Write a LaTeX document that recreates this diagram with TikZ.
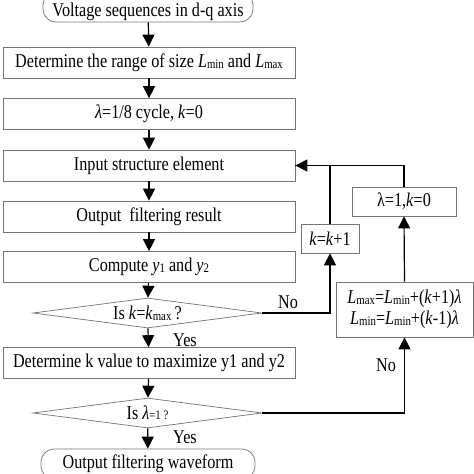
\documentclass[tikz,border=0pt]{standalone}
\usepackage{fontspec}
\setmainfont{Liberation Serif}[FakeStretch=0.83]
\usetikzlibrary{shapes.geometric,arrows.meta}
\newcommand\sbs[1]{\raisebox{-1pt}{\fontsize{13}{13}\selectfont #1}}
\tikzset{
  txt/.style={font=\fontsize{19.5}{22}\selectfont},
  procbox/.style={txt, draw=black!55, line width=0.7pt, rectangle, minimum width=292pt, minimum height=31pt, inner sep=0pt},
  smallbox/.style={txt, draw=black!55, line width=0.7pt, rectangle, inner sep=0pt, align=center},
  term/.style={txt, draw=black!55, line width=0.7pt, rectangle, rounded corners=13pt, inner sep=0pt},
  decide/.style={txt, draw=black!55, line width=0.7pt, diamond, aspect=7.6, minimum width=229pt, minimum height=30pt, inner sep=0pt},
  arr/.style={line width=1.2pt, -{Triangle[width=12pt,length=12pt]}},
  ln/.style={line width=1.2pt},
  lbl/.style={txt, inner sep=0pt}
}
\begin{document}
\begin{tikzpicture}[x=1pt,y=-1pt]
\useasboundingbox (0,0) rectangle (474,474);
\node[term, minimum width=210pt, minimum height=30pt, text height=20pt, text depth=2pt] (start) at (148,7) {Voltage sequences in d-q axis};
\node[procbox] (range) at (149,62.5) {Determine the range of size \textit{L}\sbs{min} and \textit{L}\sbs{max}};
\node[procbox] (init) at (149,114) {\textit{λ}=1/8 cycle, \textit{k}=0};
\node[procbox] (input) at (149,165.5) {Input structure element};
\node[procbox] (output) at (149,216.5) {Output\ \ filtering result};
\node[procbox] (comp) at (149,267) {Compute \textit{y}\sbs{1} and \textit{y}\sbs{2}};
\node[decide] (d1) at (147.5,313) {Is \textit{k}=\textit{k}\sbs{max}\,?};
\node[procbox] (detk) at (149,363) {Determine k value to maximize y1 and y2};
\node[decide] (d2) at (147.5,413) {Is \textit{λ}{\fontsize{13}{13}\selectfont =1 ?}};
\node[term, minimum width=214pt, minimum height=30pt] (stop) at (148,464) {Output filtering waveform};
\node[smallbox, minimum width=58pt, minimum height=29pt] (kk) at (330,238.5) {\textit{k}=\textit{k}+1};
\node[smallbox, minimum width=104pt, minimum height=29pt] (lam) at (404,201.5) {λ=1,\textit{k}=0};
\node[smallbox, minimum width=137pt, minimum height=55pt] (lm) at (404.5,309.5) {\textit{L}\sbs{max}=\textit{L}\sbs{min}+(\textit{k}+1)\textit{λ}\\[-1pt]\textit{L}\sbs{min}=\textit{L}\sbs{min}+(\textit{k}-1)\textit{λ}};
\draw[arr] (start) -- (range);
\draw[arr] (range) -- (init);
\draw[arr] (init) -- (input);
\draw[arr] (input) -- (output);
\draw[arr] (output) -- (comp);
\draw[arr] (comp) -- (d1);
\draw[arr] (d1) -- (detk);
\draw[arr] (detk) -- (d2);
\draw[arr] (d2) -- (stop);
\draw[arr] (d1.east) -| (kk.south);
\draw[arr] (lam.north) |- (input.east);
\draw[ln] (kk.north) |- (input.east);
\draw[arr] (d2.east) -| (lm.south);
\draw[arr] (lm.north) -- (lam.south);
\node[lbl] (yes1) at (185,340) {Yes};
\node[lbl] (yes2) at (185,437) {Yes};
\node[lbl] (no1) at (288,302) {No};
\node[lbl] (no2) at (386,365) {No};
\end{tikzpicture}
\end{document}
